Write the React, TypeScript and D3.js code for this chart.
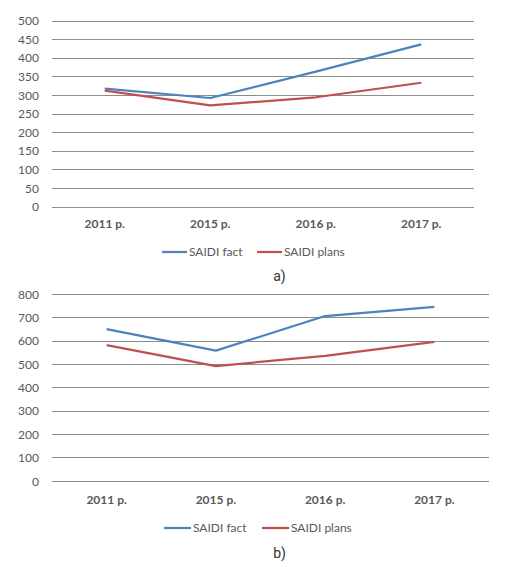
import { useRef, useEffect } from "react";
import * as d3 from "d3";

const YEARS = ["2011 р.", "2015 р.", "2016 р.", "2017 р."];

const FACT_A = [318, 293, 364, 437];
const PLANS_A = [313, 273, 295, 334];
const TICKS_A = [0, 50, 100, 150, 200, 250, 300, 350, 400, 450, 500];

const FACT_B = [651, 559, 707, 746];
const PLANS_B = [583, 493, 537, 596];
const TICKS_B = [0, 100, 200, 300, 400, 500, 600, 700, 800];

const SERIES_NAMES = ["SAIDI fact", "SAIDI plans"];

const FACT_COLOR = "#4F81BD";
const PLANS_COLOR = "#C0504D";
const GRID_COLOR = "#8C8C8C";
const LABEL_COLOR = "#595959";
const FONT = "Lato, 'Open Sans', sans-serif";

interface PanelSpec {
  fact: number[];
  plans: number[];
  ticks: number[];
  left: number;
  right: number;
  top: number;
  bottom: number;
  xLabelY: number;
  legendY: number;
  legendX: number[]; // start of each legend swatch
  swatchW: number;
  caption: string;
  captionY: number;
}

const PANELS: PanelSpec[] = [
  {
    fact: FACT_A, plans: PLANS_A, ticks: TICKS_A,
    left: 52, right: 474, top: 21, bottom: 207,
    xLabelY: 224, legendY: 252, legendX: [162, 257], swatchW: 25,
    caption: "a)", captionY: 276,
  },
  {
    fact: FACT_B, plans: PLANS_B, ticks: TICKS_B,
    left: 52, right: 489, top: 294.3, bottom: 481.3,
    xLabelY: 500, legendY: 528, legendX: [164, 262], swatchW: 27,
    caption: "b)", captionY: 553,
  },
];

export default function App() {
  const svgRef = useRef<SVGSVGElement>(null);

  useEffect(() => {
    if (!svgRef.current) return;
    const svg = d3.select(svgRef.current);
    svg.selectAll("*").remove();

    PANELS.forEach((p) => {
      const g = svg.append("g");
      const maxT = d3.max(p.ticks) || 0;
      const x = d3.scaleBand().domain(YEARS).range([p.left, p.right]).padding(0);
      const y = d3.scaleLinear().domain([0, maxT]).range([p.bottom, p.top]);
      const cx = (d: string) => (x(d) || 0) + x.bandwidth() / 2;

      // Grid
      g.append("g")
        .selectAll("line")
        .data(p.ticks)
        .join("line")
        .attr("x1", p.left).attr("x2", p.right)
        .attr("y1", (d) => y(d)).attr("y2", (d) => y(d))
        .attr("stroke", GRID_COLOR).attr("stroke-width", 1)
        .attr("shape-rendering", "crispEdges");

      // Y labels
      g.append("g")
        .selectAll("text")
        .data(p.ticks)
        .join("text")
        .attr("x", 39)
        .attr("y", (d) => y(d))
        .attr("dy", "0.35em")
        .attr("text-anchor", "end")
        .style("font-family", FONT).style("font-size", "12px")
        .style("fill", LABEL_COLOR)
        .text((d) => String(d));

      // X labels
      g.append("g")
        .selectAll("text")
        .data(YEARS)
        .join("text")
        .attr("x", (d) => cx(d))
        .attr("y", p.xLabelY)
        .attr("dy", "0.35em")
        .attr("text-anchor", "middle")
        .style("font-family", FONT).style("font-size", "12px")
        .style("font-weight", "bold")
        .style("fill", LABEL_COLOR)
        .text((d) => d);

      // Lines
      const line = d3.line<number>()
        .x((_, i) => cx(YEARS[i]))
        .y((d) => y(d));
      [
        { values: p.fact, color: FACT_COLOR },
        { values: p.plans, color: PLANS_COLOR },
      ].forEach((s) => {
        g.append("path")
          .attr("d", line(s.values) || "")
          .attr("fill", "none")
          .attr("stroke", s.color)
          .attr("stroke-width", 2.25)
          .attr("stroke-linejoin", "round");
      });

      // Legend
      [FACT_COLOR, PLANS_COLOR].forEach((color, i) => {
        const lx = p.legendX[i];
        g.append("line")
          .attr("x1", lx).attr("x2", lx + p.swatchW)
          .attr("y1", p.legendY).attr("y2", p.legendY)
          .attr("stroke", color).attr("stroke-width", 2.25);
        g.append("text")
          .attr("x", lx + p.swatchW + 2)
          .attr("y", p.legendY)
          .attr("dy", "0.35em")
          .style("font-family", FONT).style("font-size", "12px")
          .style("fill", LABEL_COLOR)
          .text(SERIES_NAMES[i]);
      });

      // Caption
      g.append("text")
        .attr("x", 279.5)
        .attr("y", p.captionY)
        .attr("dy", "0.35em")
        .attr("text-anchor", "middle")
        .style("font-family", "Roboto, 'Liberation Sans', sans-serif")
        .style("font-size", "14px")
        .style("fill", "#333333")
        .text(p.caption);
    });
  }, []);

  return (
    <div style={{ position: "absolute", left: 0, top: 0, background: "#fff" }}>
      <svg ref={svgRef} width={509} height={567} style={{ display: "block" }} />
    </div>
  );
}
